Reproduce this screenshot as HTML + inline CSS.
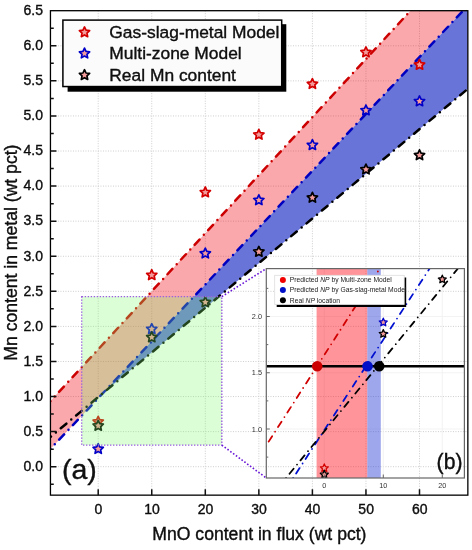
<!DOCTYPE html><html><head><meta charset="utf-8"><style>html,body{margin:0;padding:0;background:#fff;}svg{display:block;}text{font-family:"Liberation Sans",Arial,sans-serif;}text.b{stroke:#000;stroke-width:0.35px;}</style></head><body>
<svg width="472" height="550" viewBox="0 0 472 550">
<defs><clipPath id="cm"><rect x="50.45" y="10.70" width="417.40" height="484.45"/></clipPath>
<clipPath id="ci"><rect x="266.30" y="268.60" width="198.10" height="209.40"/></clipPath></defs>
<rect width="472" height="550" fill="#fff"/>
<path d="M98.20,10.70V495.15M151.75,10.70V495.15M205.30,10.70V495.15M258.85,10.70V495.15M312.40,10.70V495.15M365.95,10.70V495.15M419.50,10.70V495.15M50.45,466.70H467.85M50.45,431.62H467.85M50.45,396.55H467.85M50.45,361.47H467.85M50.45,326.40H467.85M50.45,291.32H467.85M50.45,256.25H467.85M50.45,221.17H467.85M50.45,186.10H467.85M50.45,151.02H467.85M50.45,115.95H467.85M50.45,80.87H467.85M50.45,45.80H467.85" stroke="#cdcdcd" stroke-width="1" stroke-dasharray="1 1.5" fill="none"/>
<g clip-path="url(#cm)">
<path d="M50.45,401.12 L467.85,-51.43 L467.85,5.70 L50.45,448.91 Z" fill="rgb(240,0,10)" fill-opacity="0.34"/>
<path d="M103.04,393.07 L467.85,5.70 L467.85,88.84 Z" fill="rgb(104,116,215)"/>
<path d="M45.45,406.54 L472.85,-56.86" stroke="#cc0000" stroke-width="2.5" stroke-dasharray="7.2 6.4 0 6.4" stroke-linecap="round" fill="none"/>
<path d="M45.45,454.22 L472.85,0.39" stroke="#0000c0" stroke-width="2.5" stroke-dasharray="7.2 6.4 0 6.4" stroke-linecap="round" fill="none"/>
<path d="M45.45,441.09 L472.85,84.67" stroke="#000" stroke-width="2.5" stroke-dasharray="7.2 6.4 0 6.4" stroke-linecap="round" fill="none"/>
</g>
<path d="M98.20,416.34 L99.73,419.64 L103.34,420.07 L100.67,422.54 L101.37,426.11 L98.20,424.34 L95.03,426.11 L95.73,422.54 L93.06,420.07 L96.67,419.64 Z" fill="#f39a9a" stroke="#d40000" stroke-width="1.7" stroke-linejoin="round"/>
<path d="M151.75,269.73 L153.28,273.02 L156.89,273.46 L154.22,275.93 L154.92,279.50 L151.75,277.73 L148.58,279.50 L149.28,275.93 L146.61,273.46 L150.22,273.02 Z" fill="#f39a9a" stroke="#d40000" stroke-width="1.7" stroke-linejoin="round"/>
<path d="M205.30,186.97 L206.83,190.27 L210.44,190.71 L207.77,193.18 L208.47,196.74 L205.30,194.97 L202.13,196.74 L202.83,193.18 L200.16,190.71 L203.77,190.27 Z" fill="#f39a9a" stroke="#d40000" stroke-width="1.7" stroke-linejoin="round"/>
<path d="M258.85,129.30 L260.38,132.60 L263.99,133.03 L261.32,135.50 L262.02,139.07 L258.85,137.30 L255.68,139.07 L256.38,135.50 L253.71,133.03 L257.32,132.60 Z" fill="#f39a9a" stroke="#d40000" stroke-width="1.7" stroke-linejoin="round"/>
<path d="M312.40,78.58 L313.93,81.87 L317.54,82.31 L314.87,84.78 L315.57,88.35 L312.40,86.58 L309.23,88.35 L309.93,84.78 L307.26,82.31 L310.87,81.87 Z" fill="#f39a9a" stroke="#d40000" stroke-width="1.7" stroke-linejoin="round"/>
<path d="M365.95,46.90 L367.48,50.19 L371.09,50.63 L368.42,53.10 L369.12,56.66 L365.95,54.90 L362.78,56.66 L363.48,53.10 L360.81,50.63 L364.42,50.19 Z" fill="#f39a9a" stroke="#d40000" stroke-width="1.7" stroke-linejoin="round"/>
<path d="M419.50,59.40 L421.03,62.70 L424.64,63.13 L421.97,65.60 L422.67,69.17 L419.50,67.40 L416.33,69.17 L417.03,65.60 L414.36,63.13 L417.97,62.70 Z" fill="#f39a9a" stroke="#d40000" stroke-width="1.7" stroke-linejoin="round"/>
<path d="M98.20,443.60 L99.73,446.89 L103.34,447.33 L100.67,449.80 L101.37,453.37 L98.20,451.60 L95.03,453.37 L95.73,449.80 L93.06,447.33 L96.67,446.89 Z" fill="#f39a9a" stroke="#0000c8" stroke-width="1.7" stroke-linejoin="round"/>
<path d="M151.75,323.68 L153.28,326.98 L156.89,327.41 L154.22,329.88 L154.92,333.45 L151.75,331.68 L148.58,333.45 L149.28,329.88 L146.61,327.41 L150.22,326.98 Z" fill="#f39a9a" stroke="#0000c8" stroke-width="1.7" stroke-linejoin="round"/>
<path d="M205.30,248.09 L206.83,251.39 L210.44,251.82 L207.77,254.29 L208.47,257.86 L205.30,256.09 L202.13,257.86 L202.83,254.29 L200.16,251.82 L203.77,251.39 Z" fill="#f39a9a" stroke="#0000c8" stroke-width="1.7" stroke-linejoin="round"/>
<path d="M258.85,194.77 L260.38,198.07 L263.99,198.50 L261.32,200.97 L262.02,204.54 L258.85,202.77 L255.68,204.54 L256.38,200.97 L253.71,198.50 L257.32,198.07 Z" fill="#f39a9a" stroke="#0000c8" stroke-width="1.7" stroke-linejoin="round"/>
<path d="M312.40,139.70 L313.93,142.99 L317.54,143.43 L314.87,145.90 L315.57,149.46 L312.40,147.70 L309.23,149.46 L309.93,145.90 L307.26,143.43 L310.87,142.99 Z" fill="#f39a9a" stroke="#0000c8" stroke-width="1.7" stroke-linejoin="round"/>
<path d="M365.95,104.99 L367.48,108.29 L371.09,108.72 L368.42,111.20 L369.12,114.76 L365.95,112.99 L362.78,114.76 L363.48,111.20 L360.81,108.72 L364.42,108.29 Z" fill="#f39a9a" stroke="#0000c8" stroke-width="1.7" stroke-linejoin="round"/>
<path d="M419.50,95.93 L421.03,99.23 L424.64,99.66 L421.97,102.13 L422.67,105.70 L419.50,103.93 L416.33,105.70 L417.03,102.13 L414.36,99.66 L417.97,99.23 Z" fill="#f39a9a" stroke="#0000c8" stroke-width="1.7" stroke-linejoin="round"/>
<path d="M98.20,420.41 L99.73,423.71 L103.34,424.15 L100.67,426.62 L101.37,430.18 L98.20,428.41 L95.03,430.18 L95.73,426.62 L93.06,424.15 L96.67,423.71 Z" fill="#f39a9a" stroke="#000" stroke-width="1.7" stroke-linejoin="round"/>
<path d="M151.75,331.90 L153.28,335.20 L156.89,335.63 L154.22,338.10 L154.92,341.67 L151.75,339.90 L148.58,341.67 L149.28,338.10 L146.61,335.63 L150.22,335.20 Z" fill="#f39a9a" stroke="#000" stroke-width="1.7" stroke-linejoin="round"/>
<path d="M205.30,296.92 L206.83,300.21 L210.44,300.65 L207.77,303.12 L208.47,306.68 L205.30,304.92 L202.13,306.68 L202.83,303.12 L200.16,300.65 L203.77,300.21 Z" fill="#f39a9a" stroke="#000" stroke-width="1.7" stroke-linejoin="round"/>
<path d="M258.85,246.41 L260.38,249.70 L263.99,250.14 L261.32,252.61 L262.02,256.17 L258.85,254.41 L255.68,256.17 L256.38,252.61 L253.71,250.14 L257.32,249.70 Z" fill="#f39a9a" stroke="#000" stroke-width="1.7" stroke-linejoin="round"/>
<path d="M312.40,192.31 L313.93,195.61 L317.54,196.04 L314.87,198.52 L315.57,202.08 L312.40,200.31 L309.23,202.08 L309.93,198.52 L307.26,196.04 L310.87,195.61 Z" fill="#f39a9a" stroke="#000" stroke-width="1.7" stroke-linejoin="round"/>
<path d="M365.95,164.07 L367.48,167.37 L371.09,167.80 L368.42,170.28 L369.12,173.84 L365.95,172.07 L362.78,173.84 L363.48,170.28 L360.81,167.80 L364.42,167.37 Z" fill="#f39a9a" stroke="#000" stroke-width="1.7" stroke-linejoin="round"/>
<path d="M419.50,149.81 L421.03,153.11 L424.64,153.54 L421.97,156.01 L422.67,159.58 L419.50,157.81 L416.33,159.58 L417.03,156.01 L414.36,153.54 L417.97,153.11 Z" fill="#f39a9a" stroke="#000" stroke-width="1.7" stroke-linejoin="round"/>
<rect x="81.7" y="296.6" width="140.10" height="148.50" fill="rgb(125,250,110)" fill-opacity="0.28"/>
<rect x="81.7" y="296.6" width="140.10" height="148.50" fill="none" stroke="#9b5fe0" stroke-width="1.4" stroke-dasharray="1.4 1.6"/>
<path d="M221.8,296.6 L266.3,268.6 M221.8,445.1 L266.3,478.0" stroke="#6a18d8" stroke-width="1.6" stroke-dasharray="1.6 1.9" fill="none"/>
<g clip-path="url(#ci)">
<path d="M324.30,268.6V478.0M383.30,268.6V478.0M442.30,268.6V478.0M266.3,429.00H464.4M266.3,372.75H464.4M266.3,316.50H464.4" stroke="#f0f0f0" stroke-width="0.8" fill="none"/>
<rect x="316.6" y="268.6" width="50.70" height="209.40" fill="rgb(255,20,30)" fill-opacity="0.45"/>
<rect x="367.3" y="268.6" width="13.50" height="209.40" fill="rgb(40,60,210)" fill-opacity="0.45"/>
<path d="M250.00,470.75 L396.00,243.25" stroke="#d00000" stroke-width="1.8" stroke-dasharray="6.4 5.45 0 5.45" stroke-linecap="round" fill="none"/>
<path d="M277.23,502.44 L445.27,244.46" stroke="#0010d0" stroke-width="1.8" stroke-dasharray="6.4 5.45 0 5.45" stroke-linecap="round" fill="none"/>
<path d="M267.57,500.49 L476.83,245.41" stroke="#000" stroke-width="1.8" stroke-dasharray="6.4 5.45 0 5.45" stroke-linecap="round" fill="none"/>
<path d="M266.3,366.2H464.4" stroke="#000" stroke-width="2.4"/>
<circle cx="317.2" cy="366.2" r="5.3" fill="#cc0000"/>
<circle cx="367.5" cy="366.2" r="5.3" fill="#0010c8"/>
<circle cx="379.2" cy="366.2" r="5.3" fill="#000"/>
<path d="M324.30,463.95 L325.48,466.53 L328.29,466.85 L326.20,468.77 L326.77,471.55 L324.30,470.15 L321.83,471.55 L322.40,468.77 L320.31,466.85 L323.12,466.53 Z" fill="#f39a9a" stroke="#d40000" stroke-width="1.3" stroke-linejoin="round"/>
<path d="M383.30,318.15 L384.48,320.73 L387.29,321.05 L385.20,322.97 L385.77,325.75 L383.30,324.35 L380.83,325.75 L381.40,322.97 L379.31,321.05 L382.12,320.73 Z" fill="#f39a9a" stroke="#0000c8" stroke-width="1.3" stroke-linejoin="round"/>
<path d="M324.30,470.36 L325.48,472.94 L328.29,473.26 L326.20,475.18 L326.77,477.96 L324.30,476.56 L321.83,477.96 L322.40,475.18 L320.31,473.26 L323.12,472.94 Z" fill="#f39a9a" stroke="#000" stroke-width="1.3" stroke-linejoin="round"/>
<path d="M383.30,329.62 L384.48,332.21 L387.29,332.53 L385.20,334.44 L385.77,337.22 L383.30,335.82 L380.83,337.22 L381.40,334.44 L379.31,332.53 L382.12,332.21 Z" fill="#f39a9a" stroke="#000" stroke-width="1.3" stroke-linejoin="round"/>
<path d="M442.30,275.18 L443.48,277.76 L446.29,278.08 L444.20,279.99 L444.77,282.77 L442.30,281.38 L439.83,282.77 L440.40,279.99 L438.31,278.08 L441.12,277.76 Z" fill="#f39a9a" stroke="#000" stroke-width="1.3" stroke-linejoin="round"/>
</g>
<rect x="266.3" y="268.6" width="198.10" height="209.40" fill="none" stroke="#666" stroke-width="1.2"/>
<path d="M324.30,478.0v-3.5M383.30,478.0v-3.5M442.30,478.0v-3.5M266.3,429.00h3.5M266.3,372.75h3.5M266.3,316.50h3.5M266.3,457.12h2M266.3,400.88h2M266.3,344.62h2M266.3,288.38h2" stroke="#666" stroke-width="1" fill="none"/>
<text x="324.30" y="488" font-size="7.3" text-anchor="middle" fill="#333">0</text>
<text x="383.30" y="488" font-size="7.3" text-anchor="middle" fill="#333">10</text>
<text x="442.30" y="488" font-size="7.3" text-anchor="middle" fill="#333">20</text>
<text x="262" y="431.60" font-size="7.3" text-anchor="end" fill="#333">1.0</text>
<text x="262" y="375.35" font-size="7.3" text-anchor="end" fill="#333">1.5</text>
<text x="262" y="319.10" font-size="7.3" text-anchor="end" fill="#333">2.0</text>
<rect x="276.7" y="277.5" width="129.5" height="29.5" fill="#000"/>
<rect x="274.7" y="275.3" width="129.5" height="29.3" fill="#fff" stroke="#ddd" stroke-width="0.8"/>
<circle cx="282.9" cy="279.9" r="3" fill="#f00000"/>
<text x="289.8" y="282.30" font-size="6.75" fill="#222">Predicted <tspan font-style="italic">NP</tspan> by Multi-zone Model</text>
<circle cx="282.9" cy="289.9" r="3" fill="#0010c8"/>
<text x="289.8" y="292.30" font-size="6.75" fill="#222">Predicted <tspan font-style="italic">NP</tspan> by Gas-slag-metal Model</text>
<circle cx="282.9" cy="300.2" r="3" fill="#000"/>
<text x="289.8" y="302.60" font-size="6.75" fill="#222">Real <tspan font-style="italic">NP</tspan> location</text>
<text class="b" x="436.6" y="468.6" font-size="21.2" fill="#111">(b)</text>
<rect x="50.45" y="10.7" width="417.40" height="484.45" fill="none" stroke="#000" stroke-width="1.3"/>
<path d="M98.20,495.15v-6M151.75,495.15v-6M205.30,495.15v-6M258.85,495.15v-6M312.40,495.15v-6M365.95,495.15v-6M419.50,495.15v-6M50.45,466.70h6M50.45,431.62h6M50.45,396.55h6M50.45,361.47h6M50.45,326.40h6M50.45,291.32h6M50.45,256.25h6M50.45,221.17h6M50.45,186.10h6M50.45,151.02h6M50.45,115.95h6M50.45,80.87h6M50.45,45.80h6M50.45,484.24h3.3M50.45,449.16h3.3M50.45,414.09h3.3M50.45,379.01h3.3M50.45,343.94h3.3M50.45,308.86h3.3M50.45,273.79h3.3M50.45,238.71h3.3M50.45,203.64h3.3M50.45,168.56h3.3M50.45,133.49h3.3M50.45,98.41h3.3M50.45,63.34h3.3M50.45,28.26h3.3" stroke="#111" stroke-width="1.5" fill="none"/>
<text class="b" x="98.40" y="513.9" font-size="14" text-anchor="middle" fill="#111">0</text>
<text class="b" x="151.95" y="513.9" font-size="14" text-anchor="middle" fill="#111">10</text>
<text class="b" x="205.50" y="513.9" font-size="14" text-anchor="middle" fill="#111">20</text>
<text class="b" x="259.05" y="513.9" font-size="14" text-anchor="middle" fill="#111">30</text>
<text class="b" x="312.60" y="513.9" font-size="14" text-anchor="middle" fill="#111">40</text>
<text class="b" x="366.15" y="513.9" font-size="14" text-anchor="middle" fill="#111">50</text>
<text class="b" x="419.70" y="513.9" font-size="14" text-anchor="middle" fill="#111">60</text>
<text class="b" x="43" y="471.00" font-size="14" text-anchor="end" fill="#111">0.0</text>
<text class="b" x="43" y="435.93" font-size="14" text-anchor="end" fill="#111">0.5</text>
<text class="b" x="43" y="400.85" font-size="14" text-anchor="end" fill="#111">1.0</text>
<text class="b" x="43" y="365.77" font-size="14" text-anchor="end" fill="#111">1.5</text>
<text class="b" x="43" y="330.70" font-size="14" text-anchor="end" fill="#111">2.0</text>
<text class="b" x="43" y="295.62" font-size="14" text-anchor="end" fill="#111">2.5</text>
<text class="b" x="43" y="260.55" font-size="14" text-anchor="end" fill="#111">3.0</text>
<text class="b" x="43" y="225.47" font-size="14" text-anchor="end" fill="#111">3.5</text>
<text class="b" x="43" y="190.40" font-size="14" text-anchor="end" fill="#111">4.0</text>
<text class="b" x="43" y="155.32" font-size="14" text-anchor="end" fill="#111">4.5</text>
<text class="b" x="43" y="120.25" font-size="14" text-anchor="end" fill="#111">5.0</text>
<text class="b" x="43" y="85.17" font-size="14" text-anchor="end" fill="#111">5.5</text>
<text class="b" x="43" y="50.10" font-size="14" text-anchor="end" fill="#111">6.0</text>
<text class="b" x="43" y="15.02" font-size="14" text-anchor="end" fill="#111">6.5</text>
<text class="b" x="259.4" y="540.3" font-size="17.6" text-anchor="middle" fill="#111">MnO content in flux (wt pct)</text>
<text class="b" transform="translate(16.5,252.6) rotate(-90)" font-size="17.6" text-anchor="middle" fill="#111">Mn content in metal (wt pct)</text>
<text class="b" x="62" y="478.8" font-size="28.5" fill="#111">(a)</text>
<rect x="67.6" y="24.2" width="218.7" height="67.5" fill="#000"/>
<rect x="62.9" y="20.1" width="218.8" height="66.45" fill="#fbfbfb" stroke="#000" stroke-width="1.5"/>
<path d="M84.50,26.90 L86.03,30.20 L89.64,30.63 L86.97,33.10 L87.67,36.67 L84.50,34.90 L81.33,36.67 L82.03,33.10 L79.36,30.63 L82.97,30.20 Z" fill="#f39a9a" stroke="#d40000" stroke-width="1.7" stroke-linejoin="round"/>
<text class="b" x="109.3" y="37.90" font-size="17.4" fill="#111">Gas-slag-metal Model</text>
<path d="M84.50,48.10 L86.03,51.40 L89.64,51.83 L86.97,54.30 L87.67,57.87 L84.50,56.10 L81.33,57.87 L82.03,54.30 L79.36,51.83 L82.97,51.40 Z" fill="#f39a9a" stroke="#0000c8" stroke-width="1.7" stroke-linejoin="round"/>
<text class="b" x="109.3" y="59.10" font-size="17.4" fill="#111">Multi-zone Model</text>
<path d="M84.50,69.70 L86.03,73.00 L89.64,73.43 L86.97,75.90 L87.67,79.47 L84.50,77.70 L81.33,79.47 L82.03,75.90 L79.36,73.43 L82.97,73.00 Z" fill="#f39a9a" stroke="#000" stroke-width="1.7" stroke-linejoin="round"/>
<text class="b" x="109.3" y="80.70" font-size="17.4" fill="#111">Real Mn content</text>
</svg></body></html>
